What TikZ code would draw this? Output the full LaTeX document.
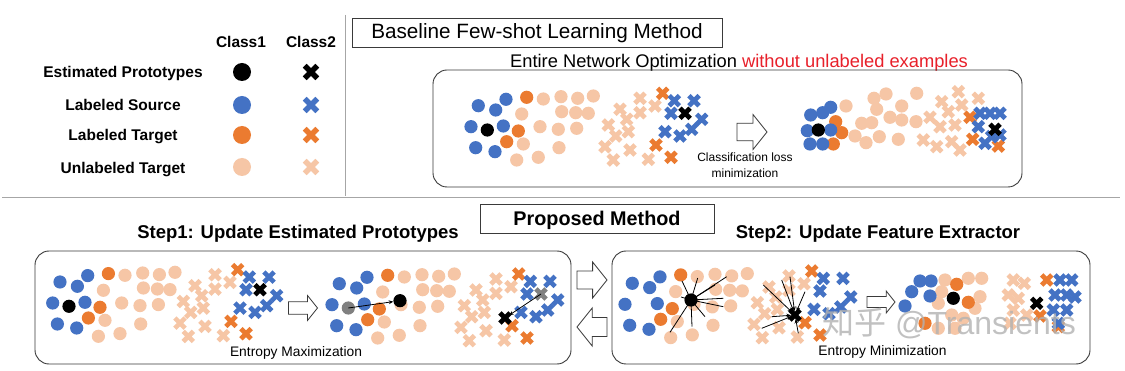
\documentclass[tikz,border=0pt]{standalone}
\usepackage{fontspec}
\setmainfont{Liberation Sans}
\newfontfamily\cjkfont{Noto Sans CJK SC}
\usetikzlibrary{arrows.meta}
\definecolor{cblue}{HTML}{4472C4}
\definecolor{corange}{HTML}{EB7B30}
\definecolor{cpeach}{HTML}{F6C6A6}
\definecolor{cgray}{HTML}{808080}
\definecolor{cred}{HTML}{E8202A}
\definecolor{cframe}{HTML}{3A3A3A}
\definecolor{cline}{HTML}{A6A6A6}
\newcommand\blockarr[5]{%
  \begin{scope}[shift={(#1,#2)},xscale=#3]
    \draw[barrow] (-#4,{-0.5*#5}) -- ({#4-0.8*#5},{-0.5*#5}) -- ({#4-0.8*#5},-#5) -- (#4,0)
      -- ({#4-0.8*#5},#5) -- ({#4-0.8*#5},{0.5*#5}) -- (-#4,{0.5*#5}) -- cycle;
  \end{scope}}
\begin{document}
\begin{tikzpicture}[x=1pt,y=-1pt,
  mydot/.pic={\fill[#1] (0,0) circle[radius=6.6pt];},
  mycross/.pic={\draw[#1,line width=4.7pt] (-5.1,-5.1)--(5.1,5.1) (-5.1,5.1)--(5.1,-5.1);},
  bigdot/.pic={\fill[#1] (0,0) circle[radius=9pt];},
  bigcross/.pic={\draw[#1,line width=5.4pt] (-6.3,-6.3)--(6.3,6.3) (-6.3,6.3)--(6.3,-6.3);},
  circclust/.pic={
    \foreach \a/\b in {56/-31,73.7/-33.3,90.4/-31.7,106/-34,34.4/-16,74.4/-18.3,88.4/-17.3,101/-16.7,
      52.7/-3.3,71/-0.7,89.4/-1.7,36/14,71.7/17.7,29.4/30,51/27.3} \pic at (\a,\b) {mydot=cpeach};
    \foreach \a/\b in {39.4/-32.7,31/1,19.4/11.7} \pic at (\a,\b) {mydot=corange};
    \foreach \a/\b in {-9/-24.3,18.7/-30.7,8.4/-20,-16.3/-3.3,16/-4,-11.6/17.7,7.7/21.7} \pic at (\a,\b) {mydot=cblue};
  },
  crossclust/.pic={
    \foreach \a/\b in {-45/-15,-65/-4,-45/-0.6,-30/-7.3,-58.3/6,-76.7/11.7,-56.7/18.4,-69.3/22.7,
      -80/33.4,-55/36.7,-71.7/46.7,-36.7/46} \pic at (\a,\b) {mycross=cpeach};
    \foreach \a/\b in {-22.3/-20,-29/31.7,-14/44} \pic at (\a,\b) {mycross=corange};
    \foreach \a/\b in {-10.7/-12.6,9/-12.6,-14/0,16.7/6,-20/18.4,-5/22.7,6.7/16} \pic at (\a,\b) {mycross=cblue};
  },
  proto/.style={circle,fill=#1,minimum size=13.2pt,inner sep=0pt},
  panel/.style={draw=cframe,line width=0.9pt,rounded corners=14pt},
  titlebox/.style={draw=cframe,line width=0.8pt},
  barrow/.style={draw=cframe,fill=white,line width=0.8pt,line join=miter},
  lab/.style={font=\fontsize{15.5}{18}\selectfont\bfseries,inner sep=0pt,anchor=base},
  steptitle/.style={font=\fontsize{18.5}{21}\selectfont\bfseries,inner sep=0pt,anchor=base},
  small/.style={font=\fontsize{13.8}{16}\selectfont,inner sep=0pt,anchor=base},
  spoke/.style={line width=0.8pt,black},
  pull/.style={line width=0.8pt,black,-{Stealth[length=4.5pt,width=3.8pt]}},
]
\useasboundingbox (0,0) rectangle (1125,371);
\fill[white] (0,0) rectangle (1125,371);

% dividers
\draw[cline,line width=0.8pt] (345,15) -- (345,196);
\draw[cline,line width=0.8pt] (2,197) -- (1120,197);

% legend
\node[lab] (c1) at (241,47.3) {Class1};
\node[lab] (c2) at (311,47.3) {Class2};
\node[lab] (l1) at (123,77.5) {Estimated Prototypes};
\node[lab] (l2) at (123,110.7) {Labeled Source};
\node[lab] (l3) at (123,140.7) {Labeled Target};
\node[lab] (l4) at (123,173.3) {Unlabeled Target};
\pic at (242,72) {bigdot=black};   \pic at (311,72) {bigcross=black};
\pic at (242,105) {bigdot=cblue};  \pic at (311,105) {bigcross=cblue};
\pic at (242,135) {bigdot=corange};\pic at (311,135) {bigcross=corange};
\pic at (242,167) {bigdot=cpeach}; \pic at (311,167) {bigcross=cpeach};

% baseline title
\draw[titlebox] (352,18) rectangle (722,47);
\node[font=\fontsize{20.7}{23}\selectfont,inner sep=0pt,anchor=base] (bt) at (537,38.5) {Baseline Few-shot Learning Method};
\node[font=\fontsize{18.3}{20}\selectfont,inner sep=0pt,anchor=base west] (eno) at (510,67.3)
  {Entire Network Optimization \textcolor{cred}{without unlabeled examples}};
\draw[panel] (433,70) rectangle (1022,187);

% top panel: before
\pic at (487.3,130) {circclust};
\node[proto=black] (tp1) at (487.3,130) {};
\pic at (685,113.3) {crossclust};
\pic at (685,113.3) {mycross=black};
\blockarr{752}{132}{1}{15}{17.5}
\node[font=\fontsize{12}{16}\selectfont,inner sep=0pt,align=center,anchor=base] (cl) at (745,178)
  {Classification loss\\minimization};

% top panel: after
\foreach \a/\b in {846/106,874/98.3,886/94,916.7/93.3,876.7/109.3,901.7/106,861.7/123.3,871.7/122.7,
  890/117.3,901.7/120,916/121.7,855/136,866/142.7,879.3/136.7,898.3/139.3} \pic at (\a,\b) {mydot=cpeach};
\foreach \a/\b in {835.7/121.7,841.7/132.7,833.3/144} \pic at (\a,\b) {mydot=corange};
\foreach \a/\b in {810.7/115,822.7/112.7,830.7/107.3,807.3/130.7,830.7/130,810/144,822.7/144} \pic at (\a,\b) {mydot=cblue};
\node[proto=black] (tp2) at (818.3,130) {};
\foreach \a/\b in {941.7/101.7,958.3/91.7,978.3/98.3,948.3/111.7,961.7/105,930/117.3,940/126.7,955/125,
  923.3/140,936.7/146.7,951.7/141.7,960/150} \pic at (\a,\b) {mycross=cpeach};
\foreach \a/\b in {970/117.3,972.7/139.3,998.3/146} \pic at (\a,\b) {mycross=corange};
\foreach \a/\b in {980/113.3,990/113.3,1000/113.3,978.3/126.7,1000/135,985/143.3,991.7/136.7} \pic at (\a,\b) {mycross=cblue};
\pic at (995,129.3) {mycross=black};

% proposed method
\draw[titlebox] (480,204) rectangle (714,233);
\node[font=\fontsize{19.8}{22}\selectfont\bfseries,inner sep=0pt,anchor=base] (pm) at (597,225.5) {Proposed Method};
\node[steptitle] (s1) at (298,239) {Step1: Update Estimated Prototypes};
\node[steptitle] (s2) at (878,239) {Step2: Update Feature Extractor};

\draw[panel] (35,251) rectangle (571,364);
\draw[panel] (612,251) rectangle (1090,364);
\blockarr{592}{280}{1}{15}{18}
\blockarr{592}{327}{-1}{15}{19}

% step1 left
\pic at (69,306.3) {circclust};
\node[proto=black] (p1) at (69,306.3) {};
\pic at (260,289.7) {crossclust};
\pic at (260,289.7) {mycross=black};
\blockarr{303}{308}{1}{14.5}{12.5}

% step1 right
\pic at (348.3,308) {circclust};
\node[proto=cgray] (g1) at (348.3,308) {};
\node[proto=black] (k1) at (400,300.7) {};
\draw[pull] (g1.center) -- (k1);
\pic at (541,294) {crossclust};
\coordinate (gx1) at (541,294);
\coordinate (kx1) at (505,318);
\pic at (gx1) {mycross=cgray};
\pic at (kx1) {mycross=black};
\draw[pull,shorten >=5pt] (gx1) -- (kx1);
\node[small] (em1) at (296,356) {Entropy Maximization};

% step2 left
\pic at (641.3,307.6) {circclust};
\node[proto=black] (p2) at (691,300) {};
\foreach \a/\b [count=\i] in {682/281,697.7/278,726.7/276.7,715/285,723.3/298.3,723.3/306.7,705/316.7,692/326.7,670/332.3,681/297}
  {\coordinate (sp\i) at (\a,\b); \draw[spoke] (p2.center) -- (sp\i);}
\pic at (834,291) {crossclust};
\coordinate (kx2) at (795,315);
\pic at (kx2) {mycross=black};
\foreach \a/\b [count=\i] in {763.3/285,781.7/280,790/276.7,805/291.7,771.7/316.7,761.7/328.3,798.3/333.3}
  {\coordinate (sx\i) at (\a,\b); \draw[pull,shorten >=4pt] (sx\i) -- (kx2);}
\blockarr{881}{302}{1}{14}{11}

% step2 right
\foreach \a/\b in {945/280,968.3/278.3,981.7/278.3,941.7/291.7,980/296.7,938.3/303.3,975/308.3,951.7/315,
  963.3/318.3,938.3/328.3,955/328.3} \pic at (\a,\b) {mydot=cpeach};
\foreach \a/\b in {956.7/284.3,968.3/302.3,925/323.3} \pic at (\a,\b) {mydot=corange};
\foreach \a/\b in {920/281,931/281,911.7/291.7,930/296,905/306} \pic at (\a,\b) {mydot=cblue};
\node[proto=black] (p3) at (953.3,298.3) {};
\foreach \a/\b in {1013.3/280,1024.3/283.3,1008.3/295,1018.3/298.3,1013.3/310,1026.7/315,1010/323.3}
  \pic at (\a,\b) {mycross=cpeach};
\foreach \a/\b in {1046.7/280,1040/316,1058.3/326.7} \pic at (\a,\b) {mycross=corange};
\foreach \a/\b in {1060/280,1071.7/280,1055/295,1066.7/295,1075/297,1053.3/310,1066.7/310,1058.3/323.3}
  \pic at (\a,\b) {mycross=cblue};
\pic at (1036.7,303.3) {mycross=black};
\node[small] (em2) at (882.5,355.7) {Entropy Minimization};

% watermark
\node[font=\fontsize{32}{36}\selectfont,text=gray!60,opacity=0.8,inner sep=0pt,anchor=base west] (wm)
  at (822,335) {{\cjkfont 知乎} @Transients};
\end{tikzpicture}
\end{document}
